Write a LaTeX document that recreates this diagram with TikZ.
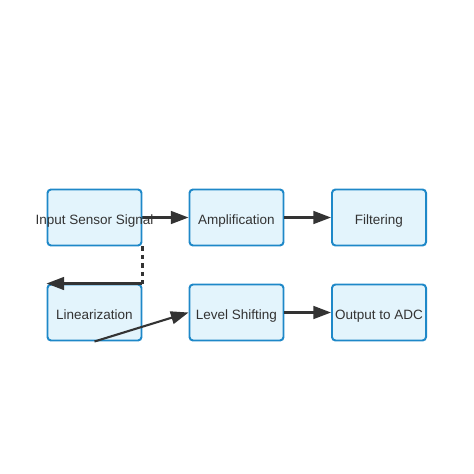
\documentclass[tikz,border=0pt]{standalone}
\usepackage{fontspec}
\setmainfont{Liberation Sans}
\usetikzlibrary{arrows.meta,backgrounds}
\definecolor{boxfill}{HTML}{E3F4FC}
\definecolor{boxline}{HTML}{1E88C8}
\definecolor{ink}{HTML}{333333}
\newcommand{\nowidth}[1]{\makebox[0pt][c]{#1}}
\tikzset{
        stage/.style = {draw = boxline, fill = boxfill, line width = 1.4pt, rounded corners = 2.5pt,
                minimum width = 2.35cm, minimum height = 1.4cm, inner sep = 0pt,
                text height = 10.6pt, text depth = 0pt,
                text = ink, font = \fontsize{9.6}{11}\selectfont},
        flow/.style = {draw = ink, line width = 1.5pt, -{Triangle[length = 4.4mm, width = 3.2mm]}}
}
\begin{document}
\begin{tikzpicture}[x = 0.025cm, y = -0.025cm]
                \useasboundingbox (0,0) rectangle (474,474);
                \node[stage] (input) at (94.5,217.5) {\nowidth{Input Sensor Signal}};
                \node[stage] (amp) at (236.5,217.5) {Amplification};
                \node[stage] (filter) at (379,217.5) {Filtering};
                \node[stage] (lin) at (94.5,312.5) {Linearization};
                \node[stage] (shift) at (236.5,312.5) {Level Shifting};
                \node[stage] (adc) at (379,312.5) {\nowidth{Output to ADC}};
                \begin{scope}[on background layer]
                        \draw[flow] (input.center) -- (amp.west);
                \end{scope}
                \draw[flow] (amp.east) -- (filter.west);
                \draw[ink, line width = 1.5pt, dashed] (input.south east) -- (lin.north east);
                \draw[flow] (lin.north east) -- (lin.north west);
                \draw[flow] (lin.south) -- (shift.west);
                \draw[flow] (shift.east) -- (adc.west);
        \end{tikzpicture}
\end{document}
